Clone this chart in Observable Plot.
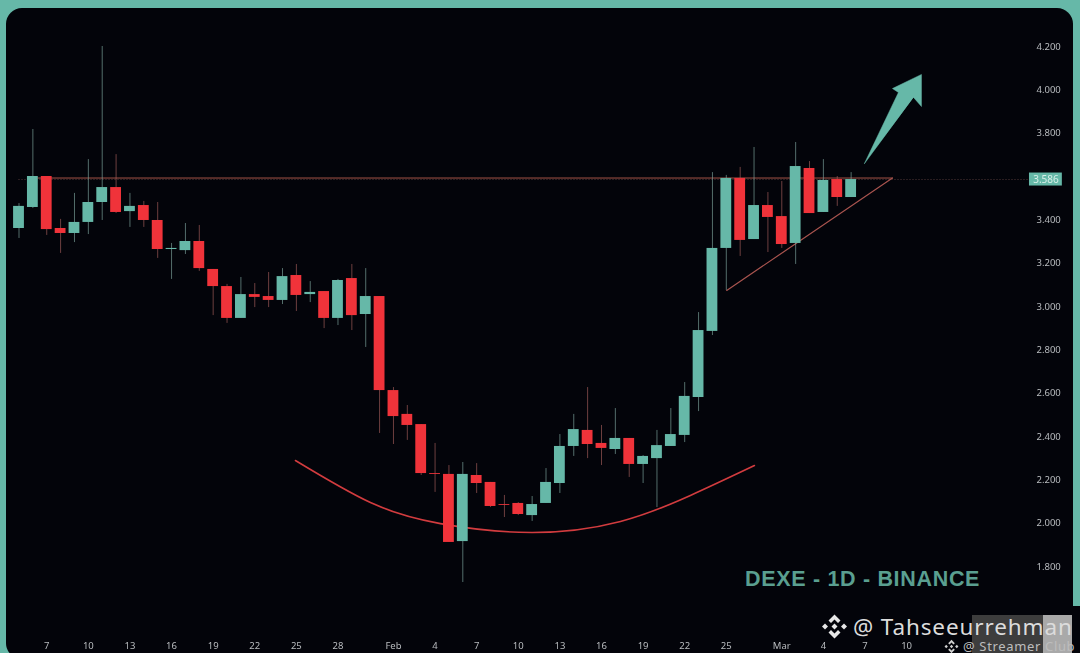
<!DOCTYPE html>
<html><head><meta charset="utf-8">
<script src="https://cdn.jsdelivr.net/npm/d3@7"></script>
<script src="https://cdn.jsdelivr.net/npm/@observablehq/plot@0.6"></script>
<style>
html,body{margin:0;padding:0;background:#66b8a8;overflow:hidden}
#frame{position:relative;width:1080px;height:653px;background:#66b8a8;overflow:hidden}
#panel{position:absolute;left:6px;top:8px;right:7px;bottom:-6px;background:#03040a;border-radius:16px}
#bottomfill{position:absolute;left:960px;top:606px;width:120px;height:47px;background:#03040a}
#chart{position:absolute;left:0;top:0;filter:blur(.35px)}
#chart svg{background:transparent;display:block}
.ov{position:absolute;white-space:nowrap;line-height:1}
</style></head><body>
<div id="frame">
<div id="panel"></div><div id="bottomfill"></div>
<div id="chart"></div>
<div class="ov" style="left:745px;top:569px;font:bold 21.5px/1 'Liberation Sans';color:#5a9f90;letter-spacing:.68px">DEXE - 1D - BINANCE</div>
<div class="ov" style="left:972px;top:615px;width:71px;height:38px;background:#3d3d3d"></div>
<div class="ov" style="left:1043px;top:615px;width:29px;height:38px;background:#a9a9a9"></div>
<svg class="ov" style="left:821px;top:613px" width="27" height="27" viewBox="-13.5 -13.5 27 27"><g fill="#e8e8e8"><path d="M0-12L6-6 3.5-3.5 0-7-3.5-3.5-6-6Z"/><path d="M0 12L6 6 3.5 3.5 0 7-3.5 3.5-6 6Z"/><path d="M-12.5 0L-9.5-3-6.5 0-9.5 3Z"/><path d="M12.5 0L9.5-3 6.5 0 9.5 3Z"/><path d="M0-3L3 0 0 3-3 0Z"/></g></svg>
<div class="ov" style="left:853px;top:616px;font:22.5px/1 'Noto Sans';color:#dcdcdc;letter-spacing:.88px">@ Tahseeurrehman</div>
<svg class="ov" style="left:944px;top:639px" width="15" height="15" viewBox="-13.5 -13.5 27 27"><g fill="#cfcfcf"><path d="M0-12L6-6 3.5-3.5 0-7-3.5-3.5-6-6Z"/><path d="M0 12L6 6 3.5 3.5 0 7-3.5 3.5-6 6Z"/><path d="M-12.5 0L-9.5-3-6.5 0-9.5 3Z"/><path d="M12.5 0L9.5-3 6.5 0 9.5 3Z"/><path d="M0-3L3 0 0 3-3 0Z"/></g></svg>
<div class="ov" style="left:963px;top:640px;font:13px/1 'Noto Sans';color:#bdbdbd;letter-spacing:.65px">@ Streamer Club</div>
</div>
<script>
// Candles, one per day from 5 Jan (day 0) to 6 Mar (day 60)
const highs = [3.475,3.817,3.600,3.402,3.522,3.678,4.200,3.701,3.522,3.485,3.480,3.291,3.383,3.374,3.171,3.102,3.134,3.106,3.157,3.175,3.194,3.115,3.069,3.125,3.194,3.175,3.046,2.626,2.543,2.455,2.368,2.266,2.280,2.275,2.188,2.128,2.095,2.123,2.252,2.409,2.502,2.626,2.451,2.529,2.391,2.312,2.428,2.529,2.649,2.972,3.618,3.605,3.642,3.734,3.526,3.577,3.757,3.669,3.678,3.600,3.618];
const bodyTops = [3.462,3.600,3.600,3.360,3.388,3.480,3.549,3.549,3.462,3.466,3.397,3.268,3.300,3.300,3.171,3.092,3.055,3.055,3.046,3.138,3.143,3.065,3.069,3.120,3.129,3.046,3.046,2.612,2.502,2.455,2.229,2.225,2.225,2.220,2.188,2.086,2.091,2.086,2.188,2.354,2.432,2.428,2.368,2.391,2.391,2.308,2.358,2.409,2.585,2.889,3.268,3.591,3.591,3.466,3.466,3.415,3.646,3.637,3.582,3.586,3.586];
const bodyBottoms = [3.360,3.457,3.355,3.337,3.337,3.388,3.480,3.434,3.438,3.397,3.263,3.263,3.258,3.175,3.092,2.945,2.945,3.042,3.028,3.028,3.051,3.055,2.945,2.945,2.958,2.963,2.612,2.492,2.451,2.229,2.225,1.911,1.915,2.183,2.077,2.082,2.040,2.035,2.091,2.183,2.354,2.363,2.345,2.340,2.271,2.271,2.298,2.354,2.405,2.580,2.885,3.268,3.305,3.309,3.411,3.286,3.291,3.429,3.434,3.503,3.503];
const lows = [3.314,3.452,3.328,3.245,3.295,3.332,3.397,3.429,3.365,3.365,3.222,3.125,3.240,3.162,2.958,2.922,2.945,2.995,2.995,3.009,2.977,3.018,2.898,2.912,2.889,2.811,2.414,2.363,2.382,2.220,2.142,1.911,1.726,2.137,2.072,2.026,2.035,2.008,2.091,2.137,2.308,2.298,2.266,2.317,2.211,2.183,2.072,2.354,2.372,2.515,2.866,3.074,3.231,3.309,3.249,3.268,3.194,3.429,3.434,3.462,3.503];
const directions = "GGRRGGGRGRRGGRRRGRRGRGRGRGRRRRRRGRRRRGGGGRRGRGGGGGGGRGRRGRGRG";

const tickDays = [2,5,8,11,14,17,20,23,27,30,33,36,39,42,45,48,51,55,58,61,64];
const tickLabels = ["7","10","13","16","19","22","25","28","Feb","4","7","10","13","16","19","22","25","Mar","4","7","10"];
const priceTicks = [1.8,2.0,2.2,2.4,2.6,2.8,3.0,3.2,3.4,3.8,4.0,4.2];
const lastPrice = 3.586;

const resistanceDays = [1.19,62.98], resistanceValues = [3.593,3.593];
const supportDays = [51.03,62.98], supportValues = [3.074,3.593];
const cupDays = [19.93,25.34,30.39,37.02,43.37,48.41,53.03];
const cupValues = [2.289,2.095,1.998,1.957,2.008,2.128,2.266];
const arrowDays = [60.96,63.41,62.98,65.07,65.07,64.5];
const arrowValues = [3.660,3.988,4.006,4.071,3.923,3.965];

const TEAL="#66b8a8", RED="#f0333a";
const candles = highs.map((h,i)=>({day:i,high:h,low:lows[i],top:bodyTops[i],bottom:bodyBottoms[i],up:directions[i]==="G"}));
const zipXY=(xs,ys)=>xs.map((x,i)=>({x,y:ys[i]}));

const plot = Plot.plot({
  width:1080,height:653,
  marginLeft:0,marginTop:0,marginRight:44,marginBottom:11,
  style:{background:"transparent",fontFamily:"'Noto Sans',sans-serif"},
  x:{type:"linear",domain:[0,64],range:[18.5,906.1]},
  y:{type:"linear",domain:[1.8,4.2],range:[566,46]},
  marks:[
    Plot.ruleY([lastPrice],{x1:0,x2:72.86,stroke:"#7a524e",strokeWidth:.7,strokeDasharray:"1,2"}),
    Plot.line(zipXY(resistanceDays,resistanceValues),{x:"x",y:"y",stroke:"#b85a4e",strokeWidth:.9}),
    Plot.line(zipXY(supportDays,supportValues),{x:"x",y:"y",stroke:"#a9544f",strokeWidth:1.2}),
    Plot.line(zipXY(cupDays,cupValues),{x:"x",y:"y",stroke:"#d23c3f",strokeWidth:1.6,curve:"natural"}),
    Plot.line(zipXY(arrowDays,arrowValues),{x:"x",y:"y",fill:TEAL,stroke:TEAL,strokeWidth:.5,curve:"linear-closed"}),
    Plot.ruleX(candles,{x:"day",y1:"low",y2:"high",stroke:d=>d.up?"#7fa8a0":"#a8605c",strokeWidth:1,strokeOpacity:.65}),
    Plot.rect(candles,{x1:d=>d.day-.39,x2:d=>d.day+.39,y1:"bottom",y2:"top",fill:d=>d.up?TEAL:RED}),
    Plot.axisX({ticks:tickDays,tickFormat:d=>tickLabels[tickDays.indexOf(d)],tickSize:0,tickPadding:0,anchor:"bottom",fontSize:9.5,fill:"#b9bcbf",stroke:"none",label:null}),
    Plot.axisY({ticks:priceTicks,tickFormat:d3.format(".3f"),tickSize:0,tickPadding:0,anchor:"right",fontSize:9.5,fill:"#b9bcbf",label:null}),
    Plot.rect([lastPrice],{x1:()=>72.86,x2:()=>75.23,y1:d=>d-.03,y2:d=>d+.03,fill:TEAL}),
    Plot.text([lastPrice],{x:()=>74.05,y:d=>d,text:d=>d3.format(".3f")(d),fill:"#d8efe9",fontSize:10,textAnchor:"middle"})
  ]
});
document.getElementById("chart").appendChild(plot);
</script>
</body></html>
